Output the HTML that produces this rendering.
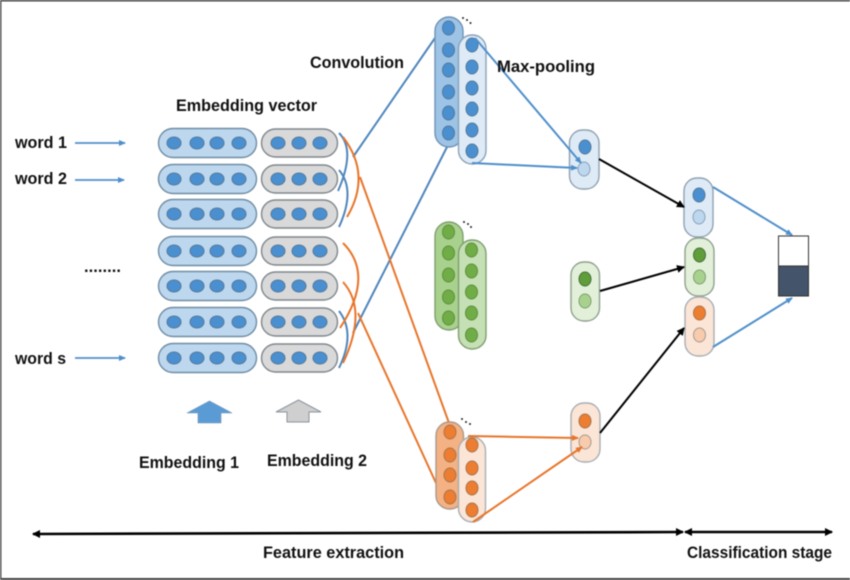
<!DOCTYPE html>
<html>
<head>
<meta charset="utf-8">
<style>
html,body{margin:0;padding:0;background:#fff;width:850px;height:580px;overflow:hidden}
svg{display:block;filter:blur(.5px)}
text{font-family:"Liberation Sans",sans-serif;font-weight:bold;font-size:16.500px;fill:#111}
</style>
</head>
<body>
<svg width="850" height="580" viewBox="0 0 850 580" xmlns="http://www.w3.org/2000/svg">
<defs>
<marker id="mb" markerWidth="8" markerHeight="8" refX="6" refY="3" orient="auto" markerUnits="userSpaceOnUse"><path d="M0 0L7 3L0 6z" fill="#4f8fcb"/></marker>
<marker id="mo" markerWidth="8" markerHeight="8" refX="6" refY="3" orient="auto" markerUnits="userSpaceOnUse"><path d="M0 0L7 3L0 6z" fill="#e8752a"/></marker>
<marker id="mk" markerWidth="10" markerHeight="10" refX="7" refY="4" orient="auto" markerUnits="userSpaceOnUse"><path d="M0 0L8 4L0 8z" fill="#000"/></marker>
<marker id="mks" markerWidth="10" markerHeight="10" refX="1" refY="4" orient="auto" markerUnits="userSpaceOnUse"><path d="M8 0L0 4L8 8z" fill="#000"/></marker>
<g id="r">
<rect x="158.500" y="-14.500" width="98" height="29" rx="14.500" fill="#bdd7ee" stroke="#6f8ca3" stroke-width="1.400"/>
<rect x="261.500" y="-14" width="76" height="28" rx="14" fill="#d9d9d9" stroke="#7f878c" stroke-width="1.400"/>
<g fill="#4a90d0" stroke="#55789a" stroke-width="1">
<ellipse cx="174" cy="0" rx="7" ry="6"/><ellipse cx="197" cy="0" rx="7" ry="6"/><ellipse cx="217" cy="0" rx="7" ry="6"/><ellipse cx="239" cy="0" rx="7" ry="6"/>
<ellipse cx="278" cy="0" rx="7" ry="6"/><ellipse cx="299" cy="0" rx="7" ry="6"/><ellipse cx="320" cy="0" rx="7" ry="6"/>
</g>
</g>
</defs>

<rect x="0" y="0" width="850" height="1.500" fill="#444"/>
<rect x="0" y="578" width="850" height="2" fill="#444"/>
<rect x="0" y="0" width="1.500" height="580" fill="#555"/>

<use href="#r" y="143"/><use href="#r" y="179"/><use href="#r" y="214"/><use href="#r" y="251"/><use href="#r" y="286"/><use href="#r" y="322"/><use href="#r" y="358"/>

<!-- word arrows -->
<g stroke="#4f8fcb" stroke-width="1.800" fill="none">
<path d="M75 143H125" marker-end="url(#mb)"/>
<path d="M75 180H124" marker-end="url(#mb)"/>
<path d="M75 358H125" marker-end="url(#mb)"/>
</g>

<!-- braces -->
<g fill="none" stroke-width="2">
<g stroke="#4f86bd">
<path d="M339 133Q356 150 338 191"/>
<path d="M339 170Q356 190 339 227"/>
<path d="M339 311Q356 333 339 368"/>
<path d="M353 157L435 38"/>
<path d="M353 333L447 147"/>
</g>
<g stroke="#e8752a">
<path d="M343 137Q372 175 347 217"/>
<path d="M343 243Q375 275 340 328"/>
<path d="M343 282Q368 310 343 363"/>
<path d="M360 177L449 423"/>
<path d="M358 313L436 483"/>
</g>
</g>

<!-- top conv -->
<rect x="435" y="17" width="28" height="130" rx="14" fill="#9dc3e6" stroke="#6f93b5" stroke-width="1.400"/>
<g fill="#4a90d0" stroke="#55789a" stroke-width="1">
<ellipse cx="448.500" cy="28" rx="6" ry="7"/><ellipse cx="448.500" cy="50" rx="6" ry="7"/><ellipse cx="448.500" cy="70" rx="6" ry="7"/><ellipse cx="448.500" cy="92" rx="6" ry="7"/><ellipse cx="448.500" cy="113" rx="6" ry="7"/><ellipse cx="448.500" cy="133" rx="6" ry="7"/>
</g>
<rect x="458.500" y="35" width="27.500" height="129" rx="13.500" fill="#deebf7" stroke="#8aa2b8" stroke-width="1.400"/>
<g fill="#4a90d0" stroke="#55789a" stroke-width="1">
<ellipse cx="472" cy="45" rx="6" ry="7"/><ellipse cx="472" cy="67" rx="6" ry="7"/><ellipse cx="472" cy="88" rx="6" ry="7"/><ellipse cx="472" cy="109" rx="6" ry="7"/><ellipse cx="472" cy="130" rx="6" ry="7"/><ellipse cx="472" cy="151" rx="6" ry="7"/>
</g>

<!-- green conv -->
<rect x="435" y="222" width="28" height="108" rx="14" fill="#a9d18e" stroke="#7f9f70" stroke-width="1.400"/>
<g fill="#70ad47" stroke="#5d8f3e" stroke-width="1">
<ellipse cx="448.500" cy="232" rx="6" ry="7"/><ellipse cx="448.500" cy="253" rx="6" ry="7"/><ellipse cx="448.500" cy="275" rx="6" ry="7"/><ellipse cx="448.500" cy="297" rx="6" ry="7"/><ellipse cx="448.500" cy="318" rx="6" ry="7"/>
</g>
<rect x="458.500" y="240" width="27.500" height="109" rx="13.500" fill="#c5e0b4" stroke="#7f9f70" stroke-width="1.400"/>
<g fill="#70ad47" stroke="#5d8f3e" stroke-width="1">
<ellipse cx="471.500" cy="250" rx="6" ry="7"/><ellipse cx="471.500" cy="271" rx="6" ry="7"/><ellipse cx="471.500" cy="292" rx="6" ry="7"/><ellipse cx="471.500" cy="313" rx="6" ry="7"/><ellipse cx="471.500" cy="335" rx="6" ry="7"/>
</g>

<!-- orange conv -->
<rect x="436" y="422" width="27.500" height="87" rx="13.500" fill="#f4b183" stroke="#a89a8e" stroke-width="1.400"/>
<g fill="#ed7d31" stroke="#a9754c" stroke-width="1">
<ellipse cx="450" cy="432" rx="6" ry="7"/><ellipse cx="450" cy="455" rx="6" ry="7"/><ellipse cx="450" cy="475" rx="6" ry="7"/><ellipse cx="450" cy="497" rx="6" ry="7"/>
</g>
<rect x="458.500" y="437" width="27" height="85" rx="13.500" fill="#fbe5d6" stroke="#a8aeb3" stroke-width="1.400"/>
<g fill="#ed7d31" stroke="#a9754c" stroke-width="1">
<ellipse cx="472" cy="445" rx="6" ry="7"/><ellipse cx="472" cy="468" rx="6" ry="7"/><ellipse cx="472" cy="488" rx="6" ry="7"/><ellipse cx="472" cy="510" rx="6" ry="7"/>
</g>

<!-- ellipsis dots -->
<g fill="#222">
<circle cx="463" cy="18" r="1"/><circle cx="467" cy="20" r="1"/><circle cx="470.500" cy="23" r="1"/>
<circle cx="464" cy="222" r="1"/><circle cx="468" cy="224" r="1"/><circle cx="471" cy="227" r="1"/>
<circle cx="462" cy="419" r="1"/><circle cx="466" cy="422" r="1"/><circle cx="470" cy="424" r="1"/>
</g>

<!-- pooled -->
<rect x="569.500" y="130" width="29.500" height="59" rx="13" fill="#deebf7" stroke="#8fa1b0" stroke-width="1.400"/>
<ellipse cx="585" cy="147" rx="6" ry="7" fill="#4a90d0" stroke="#55789a" stroke-width="1"/>
<ellipse cx="584" cy="169" rx="6" ry="7" fill="#bdd7ee" stroke="#8aa2b8" stroke-width="1"/>
<rect x="571" y="262" width="28.500" height="59" rx="13" fill="#e2f0d9" stroke="#8fa08f" stroke-width="1.400"/>
<ellipse cx="585" cy="279" rx="6" ry="7" fill="#5f9e3a" stroke="#46703a" stroke-width="1"/>
<ellipse cx="585" cy="301" rx="6" ry="7" fill="#a9d18e" stroke="#7f9f70" stroke-width="1"/>
<rect x="571" y="403" width="29" height="59" rx="13" fill="#fbe5d6" stroke="#a8aeb3" stroke-width="1.400"/>
<ellipse cx="585" cy="421" rx="6" ry="7" fill="#ed7d31" stroke="#a9754c" stroke-width="1"/>
<ellipse cx="585" cy="442" rx="6" ry="7" fill="#f8cbad" stroke="#a89a8e" stroke-width="1"/>

<!-- concat -->
<rect x="684" y="178" width="29" height="59" rx="13" fill="#deebf7" stroke="#8fa1b0" stroke-width="1.400"/>
<ellipse cx="699" cy="195" rx="6" ry="7" fill="#4a90d0" stroke="#55789a" stroke-width="1"/>
<ellipse cx="699" cy="217" rx="6" ry="7" fill="#bdd7ee" stroke="#8aa2b8" stroke-width="1"/>
<rect x="685" y="238" width="29" height="58" rx="13" fill="#e2f0d9" stroke="#8fa08f" stroke-width="1.400"/>
<ellipse cx="699.500" cy="255" rx="6" ry="7" fill="#5f9e3a" stroke="#46703a" stroke-width="1"/>
<ellipse cx="699.500" cy="277" rx="6" ry="7" fill="#a9d18e" stroke="#7f9f70" stroke-width="1"/>
<rect x="685" y="297" width="29" height="59" rx="13" fill="#fbe5d6" stroke="#a8aeb3" stroke-width="1.400"/>
<ellipse cx="699.500" cy="313" rx="6" ry="7" fill="#ed7d31" stroke="#a9754c" stroke-width="1"/>
<ellipse cx="699.500" cy="335" rx="6" ry="7" fill="#f8cbad" stroke="#a89a8e" stroke-width="1"/>

<!-- output -->
<rect x="778.500" y="236" width="30" height="30" fill="#fff" stroke="#333" stroke-width="1"/>
<rect x="778.500" y="266" width="30" height="30" fill="#44546a" stroke="#333" stroke-width="1"/>

<!-- connectors -->
<g fill="none" stroke-width="2">
<g stroke="#4f8fcb">
<path d="M475 38L581 163" marker-end="url(#mb)"/>
<path d="M472 163L577 168" marker-end="url(#mb)"/>
<path d="M713 187L792 235" marker-end="url(#mb)"/>
<path d="M713 347L792 298" marker-end="url(#mb)"/>
</g>
<g stroke="#e8752a">
<path d="M468 436L578 438" marker-end="url(#mo)"/>
<path d="M473 522L582 447" marker-end="url(#mo)"/>
</g>
<g stroke="#000">
<path d="M599 159L684 207" marker-end="url(#mk)"/>
<path d="M600 291L684 267" marker-end="url(#mk)"/>
<path d="M600 433L684 328" marker-end="url(#mk)"/>
</g>
<g stroke="#000" stroke-width="2.600">
<path d="M33 534L683 532" marker-start="url(#mks)" marker-end="url(#mk)"/>
<path d="M685 532H832" marker-start="url(#mks)" marker-end="url(#mk)"/>
</g>
</g>

<!-- block arrows -->
<path d="M187 413L209.500 401L232 413H221V423H198V413Z" fill="#5b9bd5" stroke="#6f93b5" stroke-width=".6"/>
<path d="M276 412L298.500 400L321 412H309V422H287V412Z" fill="#cfcfcf" stroke="#8a959e" stroke-width="1"/>

<!-- text -->
<text x="15" y="148" textLength="52" lengthAdjust="spacingAndGlyphs">word 1</text>
<text x="15" y="184" textLength="52" lengthAdjust="spacingAndGlyphs">word 2</text>
<text x="15" y="364" textLength="51" lengthAdjust="spacingAndGlyphs">word s</text>
<text x="84" y="272" textLength="37">........</text>
<text x="176" y="111" textLength="141" lengthAdjust="spacingAndGlyphs">Embedding vector</text>
<text x="310" y="68" textLength="94" lengthAdjust="spacingAndGlyphs">Convolution</text>
<text x="497" y="72" textLength="98" lengthAdjust="spacingAndGlyphs">Max-pooling</text>
<text x="139" y="468" textLength="100" lengthAdjust="spacingAndGlyphs">Embedding 1</text>
<text x="267" y="466" textLength="100" lengthAdjust="spacingAndGlyphs">Embedding 2</text>
<text x="263" y="558" textLength="141" lengthAdjust="spacingAndGlyphs">Feature extraction</text>
<text x="687" y="558" textLength="145" lengthAdjust="spacingAndGlyphs">Classification stage</text>
</svg>
</body>
</html>
